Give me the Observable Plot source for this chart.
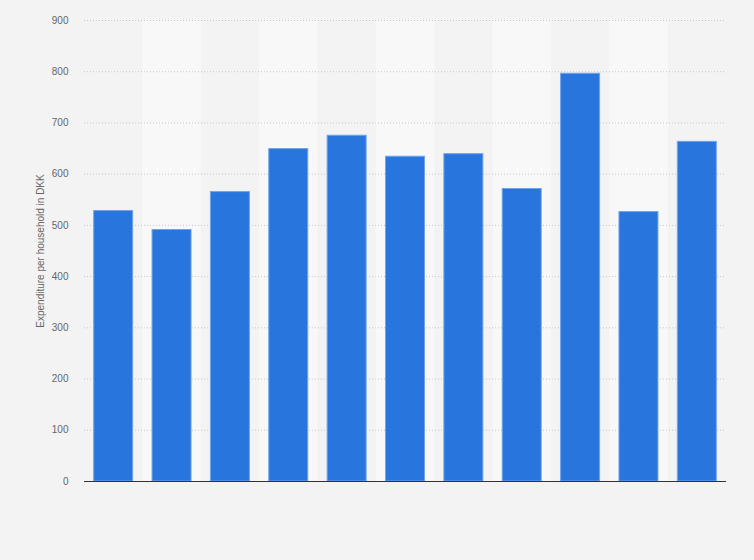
<!DOCTYPE html>
<html>
<head>
<meta charset="utf-8">
<script src="https://cdn.jsdelivr.net/npm/d3@7"></script>
<script src="https://cdn.jsdelivr.net/npm/@observablehq/plot@0.6"></script>
<style>
  html, body { margin: 0; padding: 0; background: #f3f3f3; }
  #chart svg { display: block; background: #f3f3f3; }
</style>
</head>
<body>
<div id="chart"></div>
<script>
const categories = ["1", "2", "3", "4", "5", "6", "7", "8", "9", "10", "11"];
const values = [529, 492, 566, 650, 676, 635, 640, 572, 797, 527, 664];
const yTicks = [0, 100, 200, 300, 400, 500, 600, 700, 800, 900];
const yLabel = "Expenditure per household in DKK";

const data = categories.map((c, i) => ({category: c, value: values[i], idx: i}));

const W = 754, H = 560;
const mL = 84, mR = 28, mT = 20, mB = 79;
const step = (W - mL - mR) / categories.length;
const pad = 0.315;
const inset = -(step * pad) / 2;

const chart = Plot.plot({
  width: W,
  height: H,
  marginLeft: mL,
  marginRight: mR,
  marginTop: mT,
  marginBottom: mB,
  style: {background: "#f3f3f3", fontFamily: "'Liberation Sans', Arial, sans-serif"},
  x: {domain: categories, paddingInner: pad, paddingOuter: pad / 2, round: false, axis: null},
  y: {domain: [0, 900], axis: null},
  marks: [
    Plot.barY(data.filter(d => d.idx % 2 === 1), {
      x: "category", y1: 0, y2: 900, fill: "#f8f8f8",
      insetLeft: inset, insetRight: inset
    }),
    Plot.ruleY(yTicks.filter(t => t > 0), {
      stroke: "#c8c8c8", strokeWidth: 1, strokeDasharray: "1,2"
    }),
    Plot.axisY({
      ticks: yTicks, tickSize: 0, tickPadding: 16, fontSize: 10,
      color: "#666", label: yLabel, labelAnchor: "center", labelArrow: "none",
      labelOffset: 48
    }),
    Plot.barY(data, {
      x: "category", y: "value", fill: "#2876dd",
      stroke: "#6fa3ea", strokeWidth: 1, insetTop: 0.5, insetLeft: 0.5, insetRight: 0.5
    }),
    Plot.ruleY([0], {stroke: "#333", strokeWidth: 1})
  ]
});
document.getElementById("chart").appendChild(chart);
</script>
</body>
</html>
